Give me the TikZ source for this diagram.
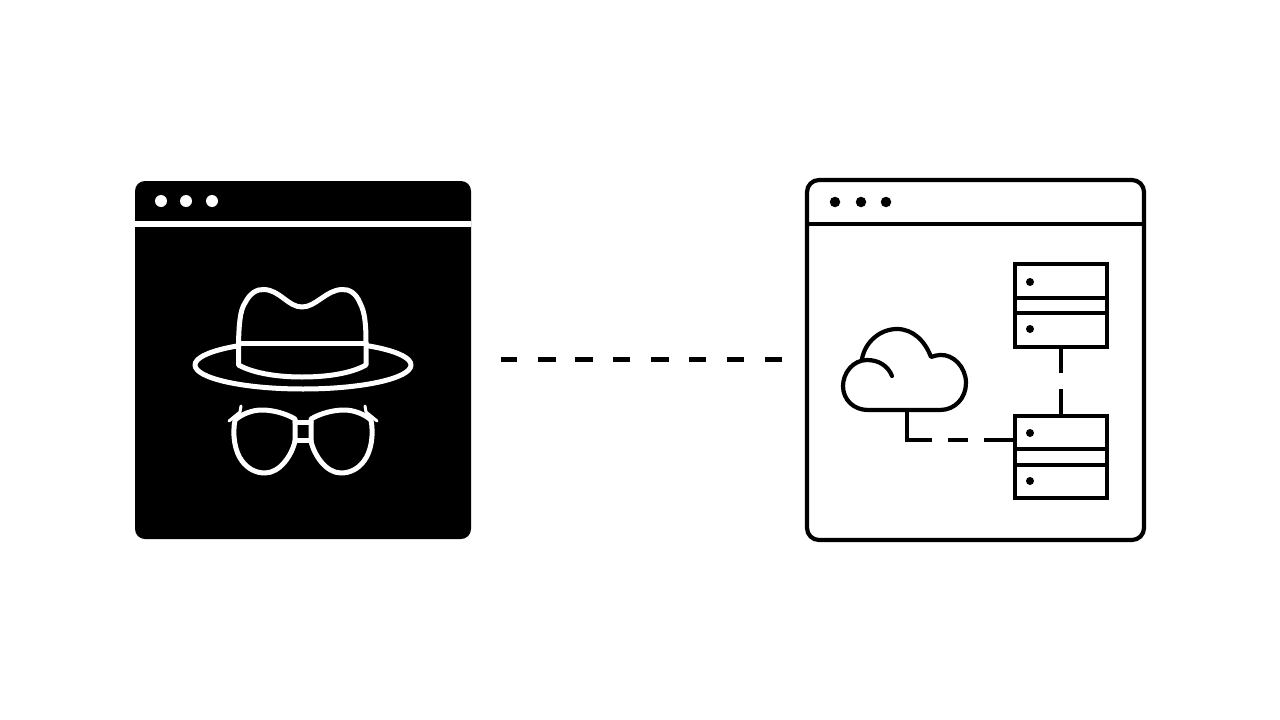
\documentclass[tikz,border=0pt]{standalone}
\begin{document}
\begin{tikzpicture}[x=1pt,y=-1pt,
  wl/.style={draw=white,line width=5pt,line join=round,line cap=round},
  bl/.style={draw=black,line width=4.2pt,line join=miter},
  bt/.style={draw=black,line width=4.2pt}]
\useasboundingbox (0,0) rectangle (1280,720);
% left window
\fill[black,rounded corners=10pt] (135,181) rectangle (471,539);
\fill[white] (135,221) rectangle (471,226.5);
\foreach \x/\n in {161/a,186/b,212/c} \node[circle,fill=white,inner sep=0pt,minimum size=12pt] (ld\n) at (\x,201) {};
% hat
\draw[wl] (303,365) ellipse [x radius=108,y radius=24];
\draw[wl,fill=black] (238.5,343) .. controls (239,325) and (240,310) .. (245,303)
  .. controls (250,293) and (257,289) .. (264,289.5)
  .. controls (280,290) and (288,307) .. (302,307)
  .. controls (316,307) and (326,290) .. (342,289.5)
  .. controls (349,289) and (356,293) .. (360,303)
  .. controls (365,312) and (366,325) .. (366,343)
  -- (366,365) .. controls (350,374) and (325,377) .. (302,377)
  .. controls (280,377) and (255,374) .. (238.5,365) -- cycle;
\draw[wl] (238.5,343) -- (366,343);
% glasses
\draw[wl] (295,419) .. controls (285,413) and (272,410) .. (262,410)
  .. controls (252,410) and (242,414) .. (235,420)
  .. controls (232,435) and (235,452) .. (242,461)
  .. controls (248,469) and (256,473) .. (265,473)
  .. controls (280,473) and (292,455) .. (295,441) -- cycle;
\draw[wl] (311,419) .. controls (321,413) and (334,410) .. (344,410)
  .. controls (354,410) and (364,414) .. (371,420)
  .. controls (374,435) and (371,452) .. (364,461)
  .. controls (358,469) and (350,473) .. (341,473)
  .. controls (326,473) and (314,455) .. (311,441) -- cycle;
\draw[wl] (295,422) -- (311,422) (295,440) -- (311,440);
\draw[wl,line width=3pt] (229,421) -- (240,412) -- (241,406);
\draw[wl,line width=3pt] (377,421) -- (366,412) -- (365,406);
% right window
\draw[bt,rounded corners=12pt] (807,180) rectangle (1144,540);
\draw[bt] (807,224) -- (1144,224);
\foreach \x/\n in {835/a,861/b,886/c} \node[circle,fill=black,inner sep=0pt,minimum size=10.5pt] (rd\n) at (\x,202) {};
% top server
\node[bl,rectangle,inner sep=0pt,minimum width=92pt,minimum height=83pt] (s1) at (1061,305.5) {};
\draw[bl] (1015,298) -- (1107,298) (1015,313) -- (1107,313);
\node[circle,fill=black,inner sep=0pt,minimum size=8pt] (s1a) at (1030,282) {};
\node[circle,fill=black,inner sep=0pt,minimum size=8pt] (s1b) at (1030,329) {};
% bottom server
\node[bl,rectangle,inner sep=0pt,minimum width=92pt,minimum height=82pt] (s2) at (1061,457) {};
\draw[bl] (1015,449) -- (1107,449) (1015,465) -- (1107,465);
\node[circle,fill=black,inner sep=0pt,minimum size=8pt] (s2a) at (1030,433) {};
\node[circle,fill=black,inner sep=0pt,minimum size=8pt] (s2b) at (1030,481) {};
% cloud
\draw[bl,line join=round,line cap=round] (892,376) .. controls (888,366) and (879,360) .. (867,360)
  .. controls (853,360) and (843,373) .. (843,386)
  .. controls (843,400) and (854,410) .. (868,410)
  -- (940,410) .. controls (955,410) and (966,398) .. (966,383)
  .. controls (966,367) and (953,354) .. (940,355)
  .. controls (937,355) and (934,356) .. (931,357)
  .. controls (925,341) and (913,329) .. (897,329)
  .. controls (880,329) and (865,342) .. (862,359);
\coordinate (cl) at (907,410);
% connectors
\draw[bl] (cl) -- (907,440) -- (932,440);
\draw[bl] (948,440) -- (968,440);
\draw[bl] (984,440) -- (s2.west |- 0,440);
\draw[bl] (s1.south) -- (1061,373);
\draw[bl] (1061,389) -- (s2.north);
% dashes
\foreach \a/\b in {501/517,538/556,575/593,613/630,651/669,689/706,727/744,765/782} \draw[black,line width=4.6pt] (\a,359.5) -- (\b,359.5);
\end{tikzpicture}
\end{document}
